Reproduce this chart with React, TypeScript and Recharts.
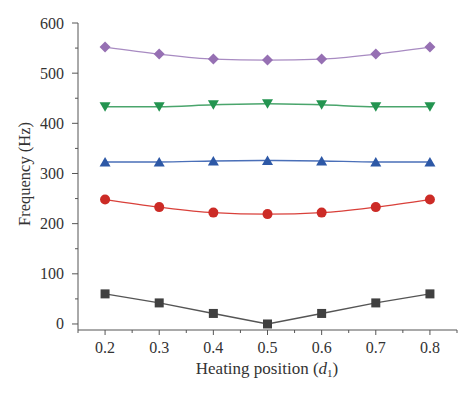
import React from 'react';
import { LineChart, Line, XAxis, YAxis } from 'recharts';

const positions = [0.2, 0.3, 0.4, 0.5, 0.6, 0.7, 0.8];
const mode1 = [60, 42, 21, 0, 21, 42, 60];
const mode2 = [248, 233, 222, 219, 222, 233, 248];
const mode3 = [323, 323, 325, 326, 325, 323, 323];
const mode4 = [433, 433, 437, 439, 437, 433, 433];
const mode5 = [552, 538, 528, 526, 528, 538, 552];

const xTicks = [0.15, 0.2, 0.25, 0.3, 0.35, 0.4, 0.45, 0.5, 0.55, 0.6, 0.65, 0.7, 0.75, 0.8, 0.85];
const xMajor = ['0.2', '0.3', '0.4', '0.5', '0.6', '0.7', '0.8'];
const yTicks = [0, 50, 100, 150, 200, 250, 300, 350, 400, 450, 500, 550, 600];
const yMajor = [0, 100, 200, 300, 400, 500, 600];

const data = positions.map((p, i) => ({
  x: p,
  m1: mode1[i],
  m2: mode2[i],
  m3: mode3[i],
  m4: mode4[i],
  m5: mode5[i],
}));

const FONT = 'Liberation Serif, DejaVu Serif, serif';
const AXIS = '#555';
const TXT = '#333';

const XTick = (props: any) => {
  const { x, y, payload } = props;
  const label = payload.value.toFixed(2).replace(/0$/, '');
  const major = xMajor.includes(label);
  return (
    <g>
      <line x1={x} y1={y} x2={x} y2={y + (major ? 5 : 3)} stroke={AXIS} strokeWidth={1} />
      {major && (
        <text x={x} y={y + 23} textAnchor="middle" fontFamily={FONT} fontSize={16} fill={TXT}>
          {label}
        </text>
      )}
    </g>
  );
};

const YTick = (props: any) => {
  const { x, y, payload } = props;
  const major = yMajor.includes(payload.value);
  return (
    <g>
      <line x1={x} y1={y} x2={x - (major ? 6 : 3)} y2={y} stroke={AXIS} strokeWidth={1} />
      {major && (
        <text x={x - 14} y={y} textAnchor="end" dominantBaseline="central" fontFamily={FONT} fontSize={16} fill={TXT}>
          {payload.value}
        </text>
      )}
    </g>
  );
};

const Square = (color: string) => (p: any) =>
  p.cx == null ? null : <rect key={p.index} x={p.cx - 4.5} y={p.cy - 4.5} width={9} height={9} fill={color} />;
const Circle = (color: string) => (p: any) =>
  p.cx == null ? null : <circle key={p.index} cx={p.cx} cy={p.cy} r={5} fill={color} />;
const TriUp = (color: string) => (p: any) =>
  p.cx == null ? null : (
    <polygon key={p.index} points={`${p.cx - 5.5},${p.cy + 4.5} ${p.cx + 5.5},${p.cy + 4.5} ${p.cx},${p.cy - 5}`} fill={color} />
  );
const TriDown = (color: string) => (p: any) =>
  p.cx == null ? null : (
    <polygon key={p.index} points={`${p.cx - 5.5},${p.cy - 4.5} ${p.cx + 5.5},${p.cy - 4.5} ${p.cx},${p.cy + 5}`} fill={color} />
  );
const Diamond = (color: string) => (p: any) =>
  p.cx == null ? null : (
    <polygon key={p.index} points={`${p.cx},${p.cy - 5.5} ${p.cx + 5.5},${p.cy} ${p.cx},${p.cy + 5.5} ${p.cx - 5.5},${p.cy}`} fill={color} />
  );

const YLabel = () => (
  <text
    x={24}
    y={174}
    transform="rotate(-90, 24, 174)"
    textAnchor="middle"
    dominantBaseline="central"
    fontFamily={FONT}
    fontSize={16.5}
    fill={TXT}
  >
    Frequency (Hz)
  </text>
);

const XLabel = () => (
  <text x={267} y={374} textAnchor="middle" fontFamily={FONT} fontSize={17} fill={TXT}>
    Heating position (<tspan fontStyle="italic">d</tspan>
    <tspan fontSize={11} dy={3}>1</tspan>
    <tspan dy={-3}>)</tspan>
  </text>
);

export default function App() {
  return (
    <div style={{ position: 'absolute', left: 0, top: 0, background: '#fff' }}>
      <LineChart width={474} height={395} data={data} margin={{ top: 23, right: 17, bottom: 0, left: 0 }}>
        <XAxis
          dataKey="x"
          type="number"
          domain={[0.15, 0.85]}
          ticks={xTicks}
          interval={0}
          height={65}
          stroke={AXIS}
          tickLine={false}
          tickSize={0}
          tickMargin={0}
          tick={<XTick />}
          label={<XLabel />}
        />
        <YAxis
          type="number"
          domain={[-12, 600]}
          ticks={yTicks}
          interval={0}
          width={78}
          stroke={AXIS}
          tickLine={false}
          tickSize={0}
          tickMargin={0}
          tick={<YTick />}
          label={<YLabel />}
        />
        <Line dataKey="m1" type="linear" stroke="#555" strokeWidth={1.4} dot={Square('#404040')} isAnimationActive={false} />
        <Line dataKey="m2" type="monotone" stroke="#d9403a" strokeWidth={1.4} dot={Circle('#cc2b26')} isAnimationActive={false} />
        <Line dataKey="m3" type="monotone" stroke="#4a6fb8" strokeWidth={1.4} dot={TriUp('#2d58a6')} isAnimationActive={false} />
        <Line dataKey="m4" type="monotone" stroke="#4aa56c" strokeWidth={1.4} dot={TriDown('#239450')} isAnimationActive={false} />
        <Line dataKey="m5" type="monotone" stroke="#a88bc2" strokeWidth={1.4} dot={Diamond('#9670b3')} isAnimationActive={false} />
      </LineChart>
    </div>
  );
}
